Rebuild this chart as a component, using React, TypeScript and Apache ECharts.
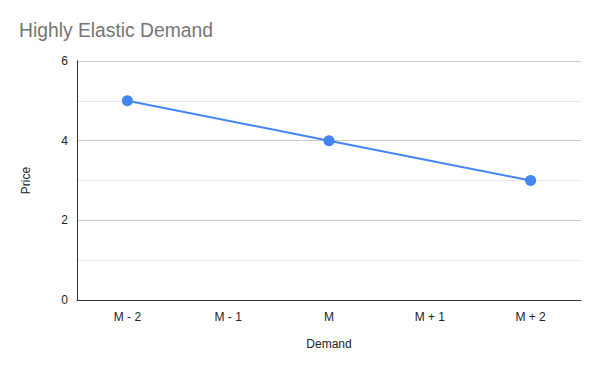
import React, { useEffect, useRef } from "react";
import * as echarts from "echarts";

const categories = ["M - 2", "M - 1", "M", "M + 1", "M + 2"];
const priceValues: (number | null)[] = [5, null, 4, null, 3];
const titleText = "Highly Elastic Demand";
const xName = "Demand";
const yName = "Price";

export default function App() {
  const ref = useRef<HTMLDivElement>(null);
  useEffect(() => {
    if (!ref.current) return;
    const chart = echarts.init(ref.current, undefined, { renderer: "svg" });
    const font = "'Liberation Sans', Arial, sans-serif";
    chart.setOption({
      animation: false,
      backgroundColor: "#ffffff",
      title: {
        text: titleText,
        left: 14,
        top: 16,
        textStyle: { fontFamily: font, fontSize: 19.3, fontWeight: "normal", color: "#757575" },
      },
      grid: { left: 77, right: 19, top: 61, bottom: 71, containLabel: false },
      xAxis: {
        type: "category",
        data: categories,
        boundaryGap: true,
        name: xName,
        nameLocation: "middle",
        nameGap: 38,
        nameTextStyle: { fontFamily: font, fontSize: 12, color: "#222" },
        axisLine: { lineStyle: { color: "#333", width: 1 } },
        axisTick: { show: false },
        axisLabel: { fontFamily: font, fontSize: 12, color: "#222", margin: 11 },
        splitLine: { show: false },
      },
      yAxis: {
        type: "value",
        min: 0,
        max: 6,
        interval: 2,
        name: yName,
        nameLocation: "middle",
        nameGap: 45,
        nameTextStyle: { fontFamily: font, fontSize: 12, color: "#222" },
        axisLine: { show: true, lineStyle: { color: "#333", width: 1 } },
        axisTick: { show: false },
        axisLabel: { fontFamily: font, fontSize: 12, color: "#222", margin: 9 },
        splitLine: { lineStyle: { color: "#cccccc", width: 1 } },
        minorTick: { show: false, splitNumber: 2 },
        minorSplitLine: { show: true, lineStyle: { color: "#e8e8e8", width: 1 } },
      },
      series: [
        {
          type: "line",
          data: priceValues,
          connectNulls: true,
          symbol: "circle",
          symbolSize: 11,
          itemStyle: { color: "#4285F4" },
          lineStyle: { color: "#4285F4", width: 2 },
        },
      ],
    });
    return () => chart.dispose();
  }, []);
  return <div ref={ref} style={{ width: 600, height: 371, margin: -8 }} />;
}
